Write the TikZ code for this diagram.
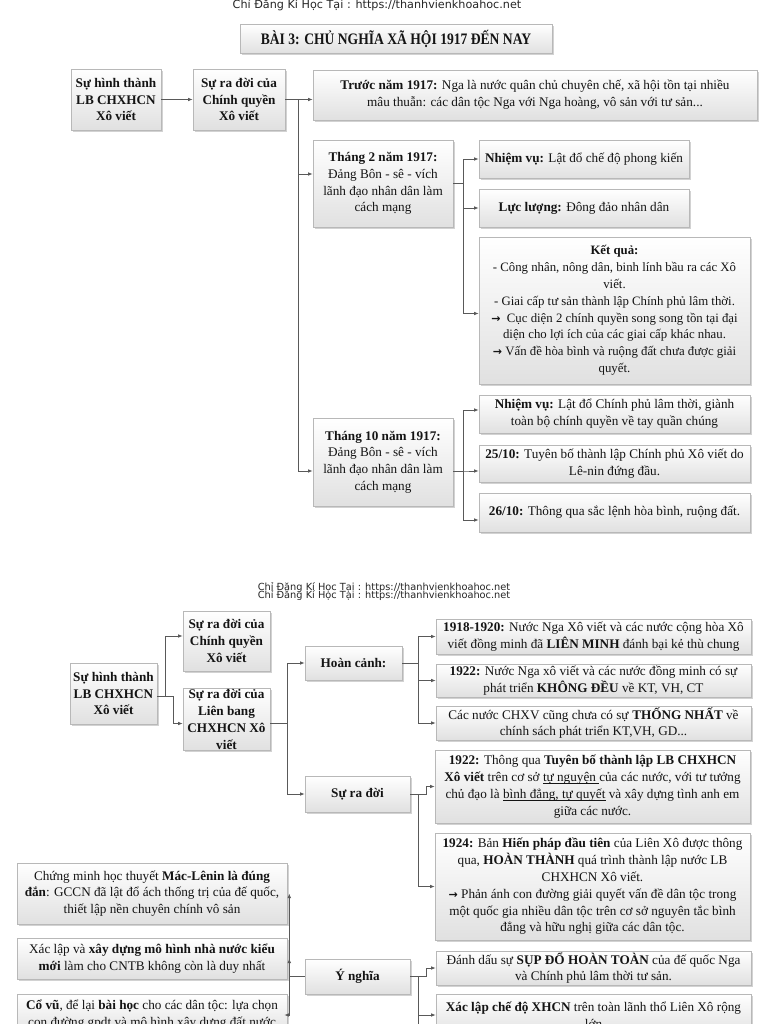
\documentclass[tikz,border=0pt]{standalone}
\usepackage{fontspec}
\setmainfont{Liberation Serif}
\newfontfamily\hdrfont{DejaVu Sans}
\newfontfamily\symfnt{DejaVu Sans}
\newfontfamily\titlefont[FakeStretch=0.85]{Liberation Serif}
\usetikzlibrary{arrows.meta,shadows,calc}
\newcommand{\myarr}{{\symfnt\bfseries\fontsize{11}{11}\selectfont →}}
\newsavebox\myulbox
\newcommand{\myul}[1]{\sbox\myulbox{#1}\rlap{\rule[-2.3pt]{\wd\myulbox}{0.55pt}}\usebox\myulbox}
\newcommand{\bx}[6]{\node[box,minimum width={(#4-#2)*1pt},minimum height={(#5-#3)*1pt}] (#1) at ({(#2+#4)/2},{(#3+#5)/2}) {#6};}
\begin{document}
\begin{tikzpicture}[x=1pt,y=-1pt,
  box/.style={draw=black!28, line width=0.6pt, top color=white, bottom color=black!12,
    drop shadow={shadow xshift=1.5pt, shadow yshift=-1.8pt, opacity=0.35},
    align=center, inner sep=1pt, font=\fontsize{13.2}{16.8}\selectfont, text=black!92},
  hdr/.style={font=\hdrfont\fontsize{9.8}{10}\selectfont, text=black!85, inner sep=0pt},
  conn/.style={draw=black!65, line width=0.8pt},
  arr/.style={conn, -{Latex[length=4.5pt,width=3.6pt]}},
]
\useasboundingbox (0,0) rectangle (768,1024);
\clip (0,0) rectangle (768,1024);
\fill[white] (0,0) rectangle (768,1024);

% headers
\node[hdr, font=\hdrfont\fontsize{11.2}{12}\selectfont] (hdr1) at (377,5) {Chỉ Đăng Kí Học Tại : https://thanhvienkhoahoc.net};
\node[hdr] (hdr2) at (384,588) {Chỉ Đăng Kí Học Tại : https://thanhvienkhoahoc.net};
\node[hdr] (hdr3) at (384,596) {Chỉ Đăng Kí Học Tại : https://thanhvienkhoahoc.net};

% title
\node[box, font=\titlefont\bfseries\fontsize{16}{18}\selectfont, minimum width=312pt, minimum height=29pt] (title) at (396,38.5) {BÀI 3: CHỦ NGHĨA XÃ HỘI 1917 ĐẾN NAY};

% ---------- top part ----------
\bx{A1}{71}{69}{161}{130}{\textbf{Sự hình thành}\\\textbf{LB CHXHCN}\\\textbf{Xô viết}}
\bx{A2}{193}{69}{285}{130}{\textbf{Sự ra đời của}\\\textbf{Chính quyền}\\\textbf{Xô viết}}
\bx{B1}{313}{70}{757}{120}{\textbf{Trước năm 1917:} Nga là nước quân chủ chuyên chế, xã hội tồn tại nhiều\\mâu thuẫn: các dân tộc Nga với Nga hoàng, vô sản với tư sản...}
\bx{B2}{313}{140}{453}{227}{\textbf{Tháng 2 năm 1917:}\\Đảng Bôn - sê - vích\\lãnh đạo nhân dân làm\\cách mạng}
\bx{C1}{479}{140}{689}{178}{\textbf{Nhiệm vụ:} Lật đổ chế độ phong kiến}
\bx{C2}{479}{189}{689}{227}{\textbf{Lực lượng:} Đông đảo nhân dân}
\node[box, font=\fontsize{12.8}{16.8}\selectfont, minimum width=271pt, minimum height=147pt] (C3) at (614.5,310.5) {\textbf{Kết quả:}\\- Công nhân, nông dân, binh lính bầu ra các Xô\\viết.\\- Giai cấp tư sản thành lập Chính phủ lâm thời.\\\myarr\ \ Cục diện 2 chính quyền song song tồn tại đại\\diện cho lợi ích của các giai cấp khác nhau.\\\myarr\ Vấn đề hòa bình và ruộng đất chưa được giải\\quyết.};
\bx{B3}{313}{418}{453}{506}{\textbf{Tháng 10 năm 1917:}\\Đảng Bôn - sê - vích\\lãnh đạo nhân dân làm\\cách mạng}
\bx{D1}{479}{395}{750}{433}{\textbf{Nhiệm vụ:} Lật đổ Chính phủ lâm thời, giành\\toàn bộ chính quyền về tay quần chúng}
\bx{D2}{479}{445}{750}{482}{\textbf{25/10:} Tuyên bố thành lập Chính phủ Xô viết do\\Lê-nin đứng đầu.}
\bx{D3}{479}{493}{750}{532}{\textbf{26/10:} Thông qua sắc lệnh hòa bình, ruộng đất.}

\draw[arr] (A1.east) -- (A2.west);
\draw[arr] (A2.east) -- (A2.east -| B1.west);
\draw[arr] (A2.east) -- ++(13,0) |- ([yshift=9.5pt]B2.west);
\draw[arr] (A2.east) -- ++(13,0) |- ([yshift=-9pt]B3.west);
\draw[arr] (B2.east) -- ++(10,0) |- (C1.west);
\draw[arr] (B2.east) -- ++(10,0) |- (C2.west);
\draw[arr] (B2.east) -- ++(10,0) |- ([yshift=-3pt]C3.west);
\draw[arr] ([yshift=-9pt]B3.east) -- ++(10,0) |- ([yshift=4pt]D1.west);
\draw[arr] ([yshift=-9pt]B3.east) -- ++(10,0) |- ([yshift=-7.5pt]D2.west);
\draw[arr] ([yshift=-9pt]B3.east) -- ++(10,0) |- ([yshift=-7.5pt]D3.west);

% ---------- bottom part ----------
\bx{E1}{70}{663}{157}{724}{\textbf{Sự hình thành}\\\textbf{LB CHXHCN}\\\textbf{Xô viết}}
\bx{E2}{183}{611}{270}{671}{\textbf{Sự ra đời của}\\\textbf{Chính quyền}\\\textbf{Xô viết}}
\bx{E3}{183}{689}{270}{750}{\textbf{Sự ra đời của}\\\textbf{Liên bang}\\\textbf{CHXHCN Xô}\\\textbf{viết}}
\bx{H1}{305}{646}{402}{680}{\textbf{Hoàn cảnh:}}
\bx{I1}{436}{619}{751}{654}{\textbf{1918-1920:} Nước Nga Xô viết và các nước cộng hòa Xô\\viết đồng minh đã \textbf{LIÊN MINH} đánh bại kẻ thù chung}
\bx{I2}{436}{664}{751}{697}{\textbf{1922:} Nước Nga xô viết và các nước đồng minh có sự\\phát triển \textbf{KHÔNG ĐỀU} về KT, VH, CT}
\bx{I3}{436}{706}{751}{740}{Các nước CHXV cũng chưa có sự \textbf{THỐNG NHẤT} về\\chính sách phát triển KT,VH, GD...}
\bx{H2}{305}{776}{410}{812}{\textbf{Sự ra đời}}
\bx{J1}{435}{750}{750}{823}{\textbf{1922:} Thông qua \textbf{Tuyên bố thành lập LB CHXHCN}\\\textbf{Xô viết} trên cơ sở \myul{tự nguyện }của các nước, với tư tưởng\\chủ đạo là \myul{bình đẳng, tự quyết} và xây dựng tình anh em\\giữa các nước.}
\bx{J2}{435}{833}{750}{940}{\textbf{1924:} Bản \textbf{Hiến pháp đầu tiên} của Liên Xô được thông\\qua, \textbf{HOÀN THÀNH} quá trình thành lập nước LB\\CHXHCN Xô viết.\\\myarr\ Phản ánh con đường giải quyết vấn đề dân tộc trong\\một quốc gia nhiều dân tộc trên cơ sở nguyên tắc bình\\đẳng và hữu nghị giữa các dân tộc.}
\bx{H3}{305}{959}{410}{994}{\textbf{Ý nghĩa}}
\bx{F1}{17}{863}{287}{924}{Chứng minh học thuyết \textbf{Mác-Lênin là đúng}\\\textbf{đắn}: GCCN đã lật đổ ách thống trị của đế quốc,\\thiết lập nền chuyên chính vô sản}
\bx{F2}{17}{938}{287}{979}{Xác lập và \textbf{xây dựng mô hình nhà nước kiểu}\\\textbf{mới} làm cho CNTB không còn là duy nhất}
\bx{F3}{17}{994}{287}{1036}{\textbf{Cổ vũ}, để lại \textbf{bài học} cho các dân tộc: lựa chọn\\con đường gpdt và mô hình xây dựng đất nước}
\bx{G1}{436}{951}{751}{985}{Đánh dấu sự \textbf{SỤP ĐỔ HOÀN TOÀN} của đế quốc Nga\\và Chính phủ lâm thời tư sản.}
\bx{G2}{436}{994}{751}{1036}{\textbf{Xác lập chế độ XHCN} trên toàn lãnh thổ Liên Xô rộng\\lớn}

\draw[arr] ([yshift=-3pt]E1.east) -- ++(8,0) |- ([yshift=5pt]E2.west);
\draw[arr] ([yshift=-3pt]E1.east) -- ++(16,0) |- ([yshift=-4pt]E3.west);
\draw[arr] ([yshift=-4pt]E3.east) -- ++(17,0) |- (H1.west);
\draw[arr] ([yshift=-4pt]E3.east) -- ++(17,0) |- (H2.west);
\draw[arr] (H1.east) -- ++(16,0) |- (I1.west);
\draw[arr] (H1.east) -- ++(16,0) |- (I2.west);
\draw[arr] (H1.east) -- ++(16,0) |- (I3.west);
\draw[arr] (H2.east) -- ++(16,0) |- (J1.west);
\draw[arr] (H2.east) -- ++(8,0) |- (J2.west);
\draw[arr] (H3.east) -- ++(16,0) |- (G1.west);
\draw[arr] (H3.east) -- ++(8,0) |- (G2.west);
\coordinate (Gnext) at ($(H3.east)+(8,70)$);
\draw[conn] (H3.east) -- ++(8,0) -- (Gnext);
\draw[arr] (H3.west) -| ([xshift=2pt]F1.east);
\draw[arr] (H3.west) -| ([xshift=2pt]F2.east);
\draw[arr] (H3.west) -| ([xshift=2pt]F3.east) -- ([xshift=-3pt]F3.east);
\end{tikzpicture}
\end{document}
